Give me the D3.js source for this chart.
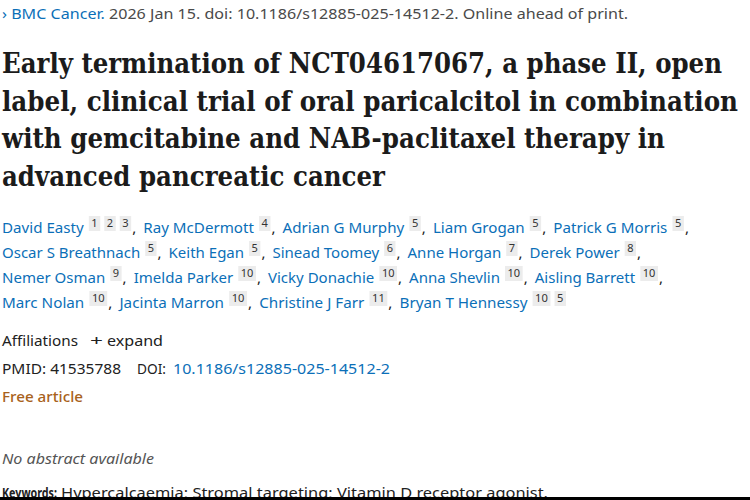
<!DOCTYPE html>
<html><head><meta charset="utf-8">
<script src="https://cdn.jsdelivr.net/npm/d3@7"></script>
<style>body{margin:0;background:#fff}svg{display:block}</style>
</head><body>
<svg id="page"></svg>
<script>
const width = 750, height = 500;
const sans = "'Noto Sans', 'Open Sans', sans-serif";
const blue = "#0b6fb8", ink = "#212121";

const titleLines = [
  "Early termination of NCT04617067, a phase II, open",
  "label, clinical trial of oral paricalcitol in combination",
  "with gemcitabine and NAB-paclitaxel therapy in",
  "advanced pancreatic cancer"
];
const titleEnds = [722, 738, 665, 385];

// authors, their affiliation numbers, and which line they sit on
const authorNames = ["David Easty", "Ray McDermott", "Adrian G Murphy", "Liam Grogan", "Patrick G Morris",
  "Oscar S Breathnach", "Keith Egan", "Sinead Toomey", "Anne Horgan", "Derek Power",
  "Nemer Osman", "Imelda Parker", "Vicky Donachie", "Anna Shevlin", "Aisling Barrett",
  "Marc Nolan", "Jacinta Marron", "Christine J Farr", "Bryan T Hennessy"];
const authorAffils = [[1,2,3],[4],[5],[5],[5],[5],[5],[6],[7],[8],[9],[10],[10],[10],[10],[10],[10],[11],[10,5]];
const authorRows = [0,0,0,0,0,1,1,1,1,1,2,2,2,2,2,3,3,3,3];
const rowEnds = [692, 644, 666, 566];

const keywords = ["Hypercalcaemia", "Stromal targeting", "Vitamin D receptor agonist."];

const svg = d3.select("#page").attr("width", width).attr("height", height);

// journal line
const journal = svg.append("text").attr("x", 2).attr("y", 19)
  .style("font-family", sans).style("font-size", "14px").attr("textLength", 626).attr("lengthAdjust", "spacingAndGlyphs");
journal.append("tspan").attr("fill", blue).text("› BMC Cancer.");
journal.append("tspan").attr("fill", "#4a4a4a").text(" 2026 Jan 15. doi: 10.1186/s12885-025-14512-2. Online ahead of print.");

// title
svg.selectAll(".title").data(titleLines).enter().append("text")
  .attr("class", "title")
  .attr("x", 2)
  .attr("y", (d, i) => 73 + i * 37.7)
  .attr("textLength", (d, i) => titleEnds[i] - 2)
  .attr("lengthAdjust", "spacingAndGlyphs")
  .style("font-family", "'DejaVu Serif', serif").style("font-weight", "bold").style("font-size", "27px")
  .attr("fill", "#1b1b1b")
  .text(d => d);

// authors
const rows = d3.range(4).map(r => svg.append("g"));
const cursor = [0, 0, 0, 0];
authorNames.forEach((name, i) => {
  const r = authorRows[i], g = rows[r];
  const y = 233 + r * 25;
  const t = g.append("text").attr("x", cursor[r]).attr("y", y)
    .style("font-family", sans).style("font-size", "15px").attr("fill", blue).text(name);
  cursor[r] += t.node().getComputedTextLength() + 5;
  authorAffils[i].forEach(a => {
    const s = g.append("text").attr("y", y - 6).style("font-family", sans).style("font-size", "11px")
      .attr("fill", "#333").text(a);
    const w = s.node().getComputedTextLength() + 5;
    g.insert("rect", "text").attr("x", cursor[r]).attr("y", y - 17).attr("width", w).attr("height", 15).attr("fill", "#ececec");
    s.attr("x", cursor[r] + 2.5);
    cursor[r] += w + 4;
  });
  const last = i === authorNames.length - 1;
  if (!last) {
    const c = g.append("text").attr("x", cursor[r] - 3).attr("y", y)
      .style("font-family", sans).style("font-size", "15px").attr("fill", ink).text(",");
    cursor[r] += c.node().getComputedTextLength() + 4;
  }
});
rows.forEach((g, r) => {
  const k = (rowEnds[r] - 2) / (cursor[r] - 4);
  g.attr("transform", `translate(2,0) scale(${k},1)`);
});

function line(x, y, str, end, color, extra) {
  const t = svg.append("text").attr("x", x).attr("y", y)
    .style("font-family", sans).style("font-size", "15px").attr("fill", color)
    .attr("textLength", end - x).attr("lengthAdjust", "spacingAndGlyphs").text(str);
  if (extra) extra(t);
  return t;
}
line(2, 346, "Affiliations", 78, ink);
line(90, 346, "+", 103, ink);
line(107, 346, "expand", 163, ink);
line(2, 374, "PMID: 41535788", 121, ink);
line(137, 374, "DOI:", 166, ink);
line(173, 374, "10.1186/s12885-025-14512-2", 390, blue);
line(2, 402, "Free article", 83, "#a8621b", t => t.style("font-weight", "500"));
line(2, 464, "No abstract available", 154, "#555", t => t.style("font-style", "italic"));
line(2, 498, "Keywords:", 57, ink, t => t.style("font-weight", "bold").style("font-size", "14px"));
line(61, 498, keywords.join("; "), 548, ink);
svg.append("rect").attr("x", 0).attr("y", 497).attr("width", width).attr("height", 3).attr("fill", "#000");
</script>
</body></html>
